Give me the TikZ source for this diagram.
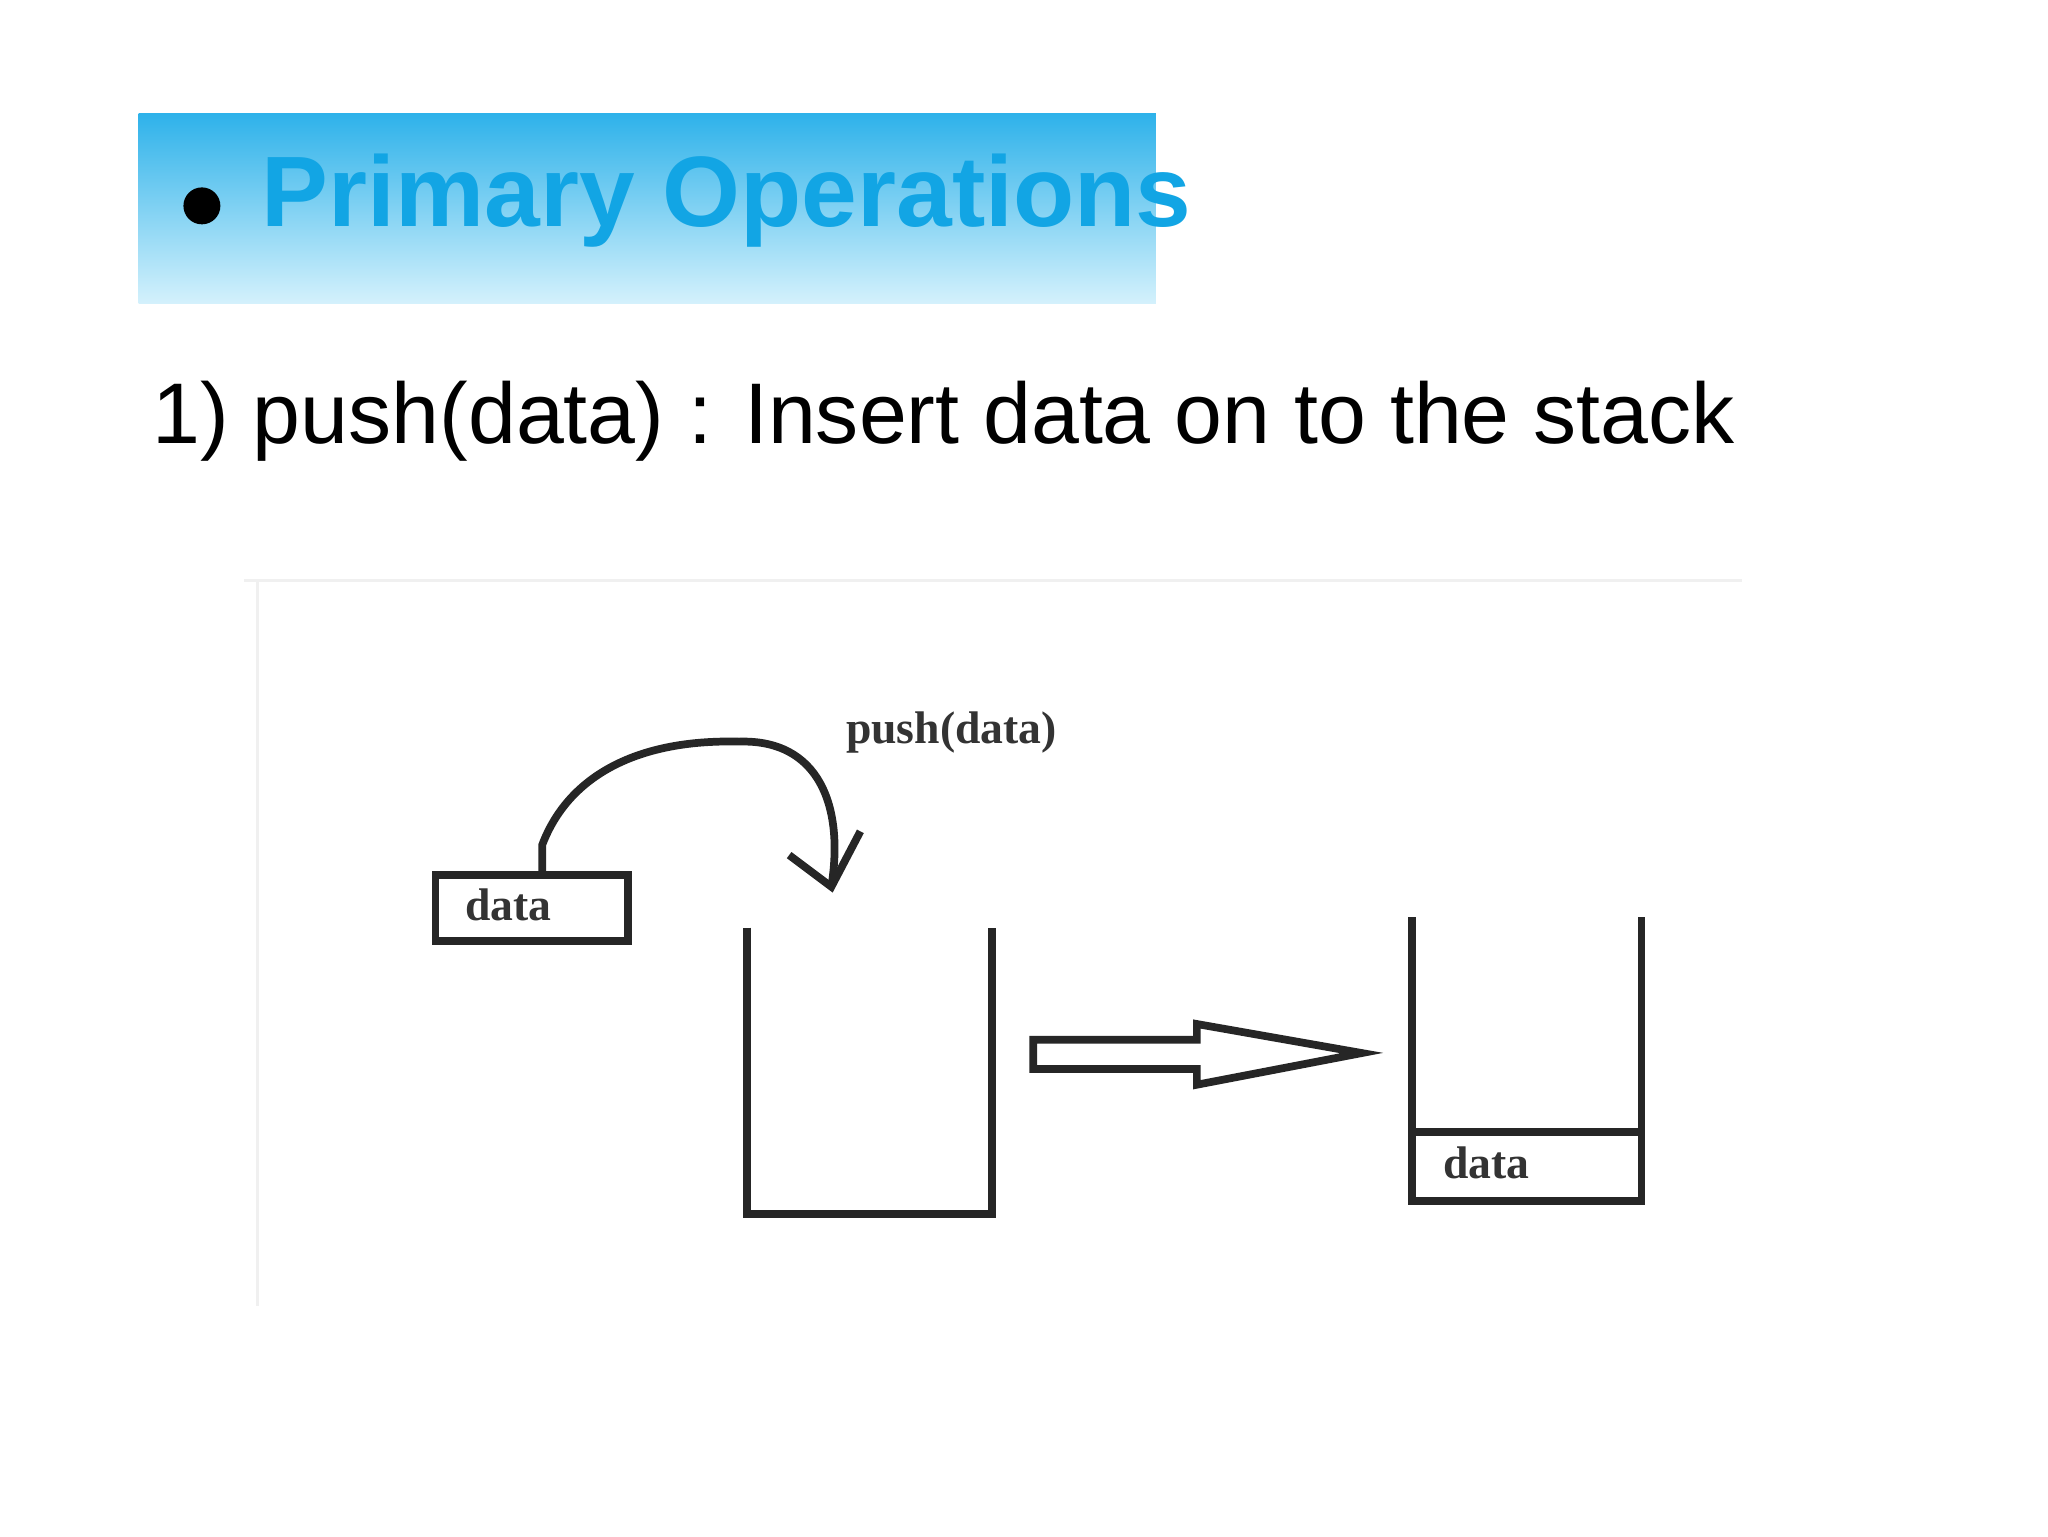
\documentclass[tikz,border=0pt]{standalone}
\usepackage{fontspec}
\setmainfont{Liberation Serif}
\newfontfamily\sans{Liberation Sans}
\usetikzlibrary{arrows.meta}
\definecolor{hdtop}{HTML}{2EB2EA}
\definecolor{hdbot}{HTML}{D4F1FC}
\definecolor{hdtext}{HTML}{12A5E4}
\tikzset{
  line/.style={line width=2.2pt, black!85},
  lbl/.style={font=\bfseries\fontsize{13}{15}\selectfont, text=black!80, inner sep=0pt}
}
\begin{document}
\begin{tikzpicture}[x=0.013196cm,y=-0.013196cm]
\useasboundingbox (0,0) rectangle (1552,1164);
\fill[white] (0,0) rectangle (1552,1164);
\shade[top color=hdtop, bottom color=hdbot] (105,86) rectangle (876,230);
\node[anchor=west, inner sep=0pt, text=hdtext, font=\sans\bfseries\fontsize{28.5}{32}\selectfont] (title) at (198,152) {Primary Operations};
\fill[black] (153,156) circle (14);
\node[anchor=west, inner sep=0pt, font=\sans\fontsize{24.5}{28}\selectfont] (sub) at (115,319) {1) push(data) : Insert data on to the stack};
\draw[black!6, line width=1pt] (185,440) -- (1320,440);
\draw[black!6, line width=1pt] (195,440) -- (195,990);
% data box
\node[draw, line width=2.2pt, black!85, minimum width=146*0.375pt, minimum height=50*0.375pt, inner sep=0pt] (d1) at (403,688) {};
\node[lbl, anchor=west] at (352,686) {data};
\node[lbl] (pl) at (721,555) {push(data)};
\coordinate (tip) at (630,672);
\draw[line] (411,663) -- (411,640) .. controls (430,590) and (480,560) .. (560,562) .. controls (620,560) and (640,610) .. (tip);
\draw[line] (598,648) -- (tip) -- (652,630);
% stack 1
\draw[line] (566,703) -- (566,920) -- (752,920) -- (752,703);
% big arrow
\draw[line] (783,788) -- (907,788) -- (907,776) -- (1032,798) -- (907,822) -- (907,810) -- (783,810) -- cycle;
% stack 2
\draw[line] (1070,695) -- (1070,910) -- (1244,910) -- (1244,695);
\draw[line] (1070,858) -- (1244,858);
\node[lbl, anchor=west] (d2) at (1093,881) {data};
\end{tikzpicture}
\end{document}
